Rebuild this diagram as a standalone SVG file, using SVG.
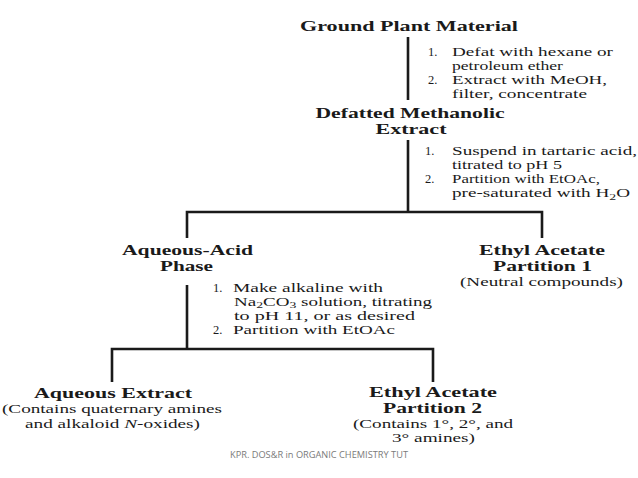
<svg xmlns="http://www.w3.org/2000/svg" width="638" height="478" viewBox="0 0 638 478">
<style>
.h{font-family:"Liberation Serif","Times New Roman",serif;font-weight:bold;font-size:14.5px;fill:#1a1a1a}
.t{font-family:"Liberation Serif","Times New Roman",serif;font-size:12.5px;fill:#1a1a1a}
.m{text-anchor:middle}
.ln{fill:none;stroke:#1a1a1a;stroke-width:2.6;stroke-linecap:butt;stroke-linejoin:miter}
.f{font-family:"Open Sans","Noto Sans",sans-serif;font-size:9.5px;fill:#7a7a7a}
</style>
<rect width="638" height="478" fill="#ffffff"/>
<g id="connectors">
<path class="ln" d="M408 37 V100"/>
<path class="ln" d="M408 140 V212"/>
<path class="ln" d="M187 238 V212 H542 V238"/>
<path class="ln" d="M187 285 V349"/>
<path class="ln" d="M112 382 V349 H433 V382"/>
</g>
<g id="ground-plant-material">
<text class="h" x="300" y="31" textLength="218" lengthAdjust="spacingAndGlyphs">Ground Plant Material</text>
</g>
<g id="step-1">
<text class="t" x="428" y="56">1.</text>
<text class="t" x="452" y="56" textLength="161" lengthAdjust="spacingAndGlyphs">Defat with hexane or</text>
<text class="t" x="452" y="70" textLength="111" lengthAdjust="spacingAndGlyphs">petroleum ether</text>
<text class="t" x="428" y="84">2.</text>
<text class="t" x="452" y="84" textLength="155" lengthAdjust="spacingAndGlyphs">Extract with MeOH,</text>
<text class="t" x="452" y="97.5" textLength="135" lengthAdjust="spacingAndGlyphs">filter, concentrate</text>
</g>
<g id="defatted-methanolic-extract">
<text class="h m" x="410" y="118" textLength="189" lengthAdjust="spacingAndGlyphs">Defatted Methanolic</text>
<text class="h m" x="411" y="133.5" textLength="71" lengthAdjust="spacingAndGlyphs">Extract</text>
</g>
<g id="step-2">
<text class="t" x="425" y="155">1.</text>
<text class="t" x="452" y="155" textLength="185" lengthAdjust="spacingAndGlyphs">Suspend in tartaric acid,</text>
<text class="t" x="452" y="169" textLength="110" lengthAdjust="spacingAndGlyphs">titrated to pH 5</text>
<text class="t" x="425" y="183">2.</text>
<text class="t" x="452" y="183" textLength="148" lengthAdjust="spacingAndGlyphs">Partition with EtOAc,</text>
<text class="t" x="452" y="197" textLength="178" lengthAdjust="spacingAndGlyphs">pre-saturated with H<tspan font-size="9" dy="2.5">2</tspan><tspan dy="-2.5">O</tspan></text>
</g>
<g id="aqueous-acid-phase">
<text class="h m" x="187.5" y="255" textLength="131" lengthAdjust="spacingAndGlyphs">Aqueous-Acid</text>
<text class="h m" x="186.5" y="270.5" textLength="53" lengthAdjust="spacingAndGlyphs">Phase</text>
</g>
<g id="ethyl-acetate-partition-1">
<text class="h m" x="542" y="255" textLength="126" lengthAdjust="spacingAndGlyphs">Ethyl Acetate</text>
<text class="h m" x="542.5" y="270.5" textLength="99" lengthAdjust="spacingAndGlyphs">Partition 1</text>
<text class="t m" x="541.5" y="285.5" textLength="163" lengthAdjust="spacingAndGlyphs">(Neutral compounds)</text>
</g>
<g id="step-3">
<text class="t" x="213" y="292">1.</text>
<text class="t" x="233" y="292" textLength="150" lengthAdjust="spacingAndGlyphs">Make alkaline with</text>
<text class="t" x="234" y="305.5" textLength="198" lengthAdjust="spacingAndGlyphs">Na<tspan font-size="9" dy="2.5">2</tspan><tspan dy="-2.5">CO</tspan><tspan font-size="9" dy="2.5">3</tspan><tspan dy="-2.5"> solution, titrating</tspan></text>
<text class="t" x="234" y="319.5" textLength="181" lengthAdjust="spacingAndGlyphs">to pH 11, or as desired</text>
<text class="t" x="213" y="333.5">2.</text>
<text class="t" x="233" y="333.5" textLength="162" lengthAdjust="spacingAndGlyphs">Partition with EtOAc</text>
</g>
<g id="aqueous-extract">
<text class="h m" x="113" y="398" textLength="158" lengthAdjust="spacingAndGlyphs">Aqueous Extract</text>
<text class="t m" x="112" y="413" textLength="220" lengthAdjust="spacingAndGlyphs">(Contains quaternary amines</text>
<text class="t m" x="112.5" y="427.5" textLength="175" lengthAdjust="spacingAndGlyphs">and alkaloid <tspan font-style="italic">N</tspan>-oxides)</text>
</g>
<g id="ethyl-acetate-partition-2">
<text class="h m" x="433" y="397" textLength="128" lengthAdjust="spacingAndGlyphs">Ethyl Acetate</text>
<text class="h m" x="432.5" y="412.5" textLength="99" lengthAdjust="spacingAndGlyphs">Partition 2</text>
<text class="t m" x="433" y="427.5" textLength="160" lengthAdjust="spacingAndGlyphs">(Contains 1°, 2°, and</text>
<text class="t m" x="433.5" y="442" textLength="83" lengthAdjust="spacingAndGlyphs">3° amines)</text>
</g>
<text class="f" x="230" y="458" textLength="178" lengthAdjust="spacingAndGlyphs">KPR. DOS&amp;R in ORGANIC CHEMISTRY TUT</text>
</svg>
